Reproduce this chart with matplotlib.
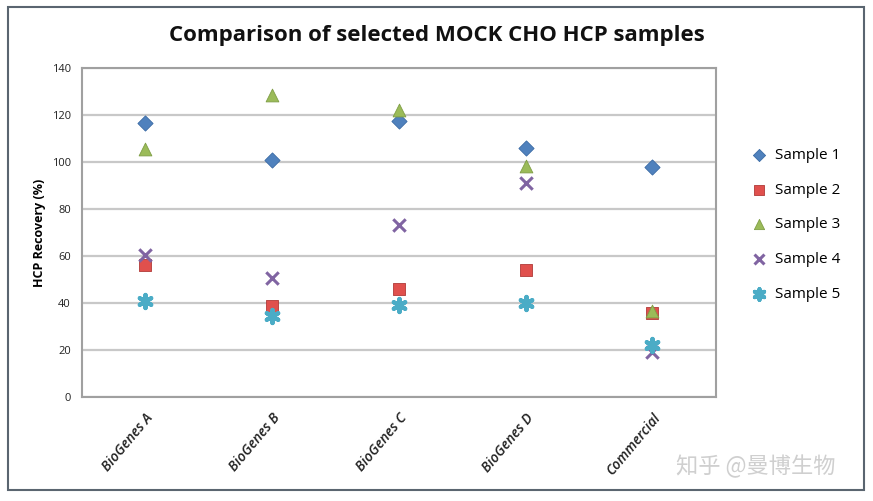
import matplotlib.pyplot as plt
from matplotlib.patches import Rectangle

plt.rcParams['font.family'] = ['Open Sans', 'DejaVu Sans']

categories = ["BioGenes A", "BioGenes B", "BioGenes C", "BioGenes D", "Commercial"]
sample_1 = [116.5, 101, 117.5, 106, 98]
sample_2 = [56, 38.5, 46, 54, 35.5]
sample_3 = [105.5, 128.5, 122, 98.5, 36.5]
sample_4 = [60.5, 50.5, 73, 91, 19]
sample_5 = [41, 34.5, 39, 40, 22]
series_names = ["Sample 1", "Sample 2", "Sample 3", "Sample 4", "Sample 5"]
y_ticks = [0, 20, 40, 60, 80, 100, 120, 140]

fig = plt.figure(figsize=(8.73, 5.01), dpi=100)
ax = fig.add_axes([0.094, 0.208, 0.726, 0.656])

# outer chart border
fig.patches.append(Rectangle((0.009, 0.022), 0.981, 0.964, transform=fig.transFigure,
                             fill=False, edgecolor='#5a6570', linewidth=1.5))

styles = [
    dict(marker='D', color='#4F81BD', s=60, edgecolors='#3a6aa5', linewidths=0.6),
    dict(marker='s', color='#E0504D', s=75, edgecolors='#b03a38', linewidths=0.6),
    dict(marker='^', color='#9BBB59', s=85, edgecolors='#7f9e45', linewidths=0.6),
    dict(marker='x', color='#8064A2', s=80, linewidths=2.2),
    dict(marker=(6, 2, 0), color='#4BACC6', s=90, linewidths=3.0),
]
data = [sample_1, sample_2, sample_3, sample_4, sample_5]
x = list(range(len(categories)))
for name, vals, st in zip(series_names, data, styles):
    ax.scatter(x, vals, label=name, zorder=3, **st)

ax.set_xlim(-0.5, len(categories) - 0.5)
ax.set_ylim(0, 140)
ax.set_yticks(y_ticks)
ax.set_yticklabels([str(v) for v in y_ticks], fontsize=8, color='#222222')
ax.set_xticks(x)
ax.set_xticklabels(categories, rotation=50, ha='right', va='top', rotation_mode='anchor',
                   fontsize=10, fontweight='semibold', fontstyle='italic', color='#222222')
ax.tick_params(length=0, pad=8)
ax.tick_params(axis='x', pad=10)
ax.grid(axis='y', color='#c8c8c8', linewidth=1.6, zorder=0)
ax.set_axisbelow(True)
for sp in ax.spines.values():
    sp.set_color('#a0a0a0')
    sp.set_linewidth(1.5)

ax.set_ylabel("HCP Recovery (%)", fontsize=9, fontweight='bold', labelpad=4)

fig.text(0.5, 0.93, "Comparison of selected MOCK CHO HCP samples", ha='center', va='center',
         fontsize=16, fontweight='bold', color='#111111')

ax.legend(loc='center left', bbox_to_anchor=(1.035, 0.523), frameon=False, fontsize=11,
          labelspacing=1.3, handletextpad=0.0, borderaxespad=0, scatterpoints=1,
          markerscale=0.8)

fig.text(0.866, 0.068, "知乎 @曼博生物", ha='center', va='center', fontsize=16,
         color='#cfcfcf', family=['Noto Sans CJK SC', 'DejaVu Sans'])

fig.savefig("out.png", dpi=100)
